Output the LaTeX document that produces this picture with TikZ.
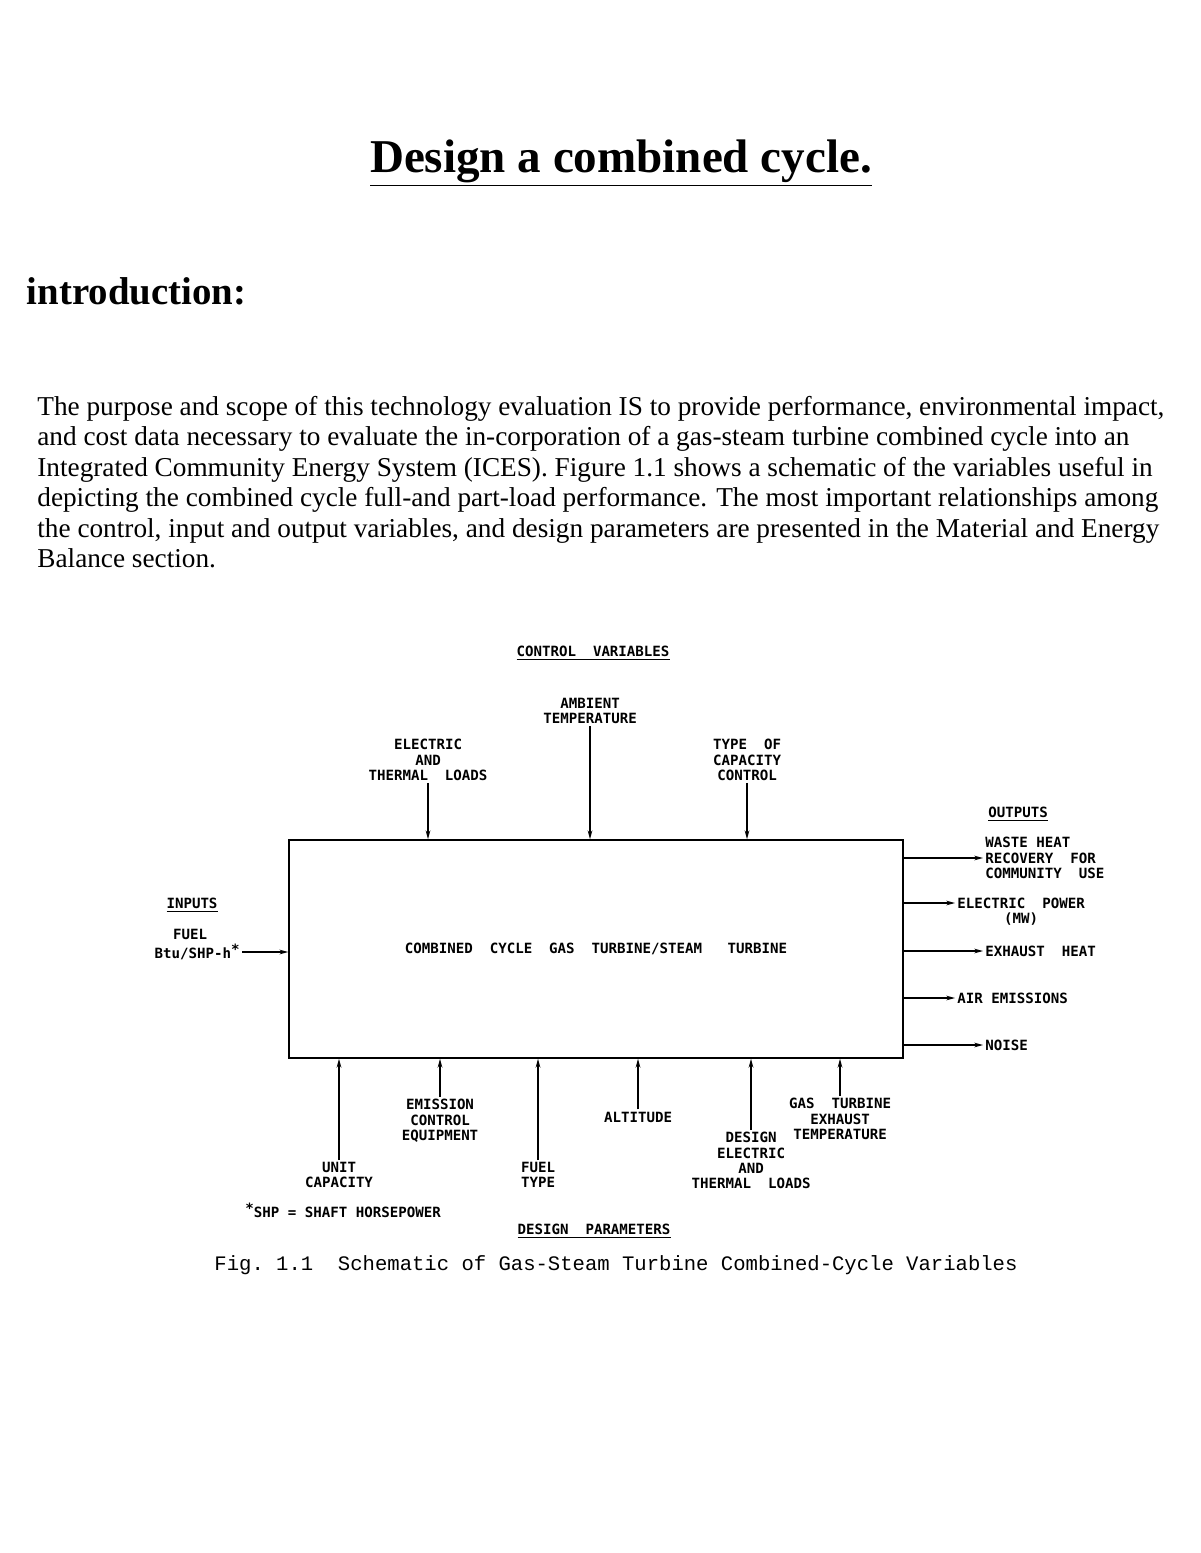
\documentclass[tikz,border=0pt]{standalone}
\usepackage{fontspec}
\setmainfont{Liberation Serif}
\newfontfamily\lettering{DejaVu Sans Mono}
\newfontfamily\typewriter{Liberation Mono}
\usetikzlibrary{positioning,arrows.meta}
\begin{document}
\begin{tikzpicture}[x=0.51pt,y=-0.51pt,>={Stealth[length=4.5pt,width=2.4pt]},
  lbl/.style={font=\lettering\bfseries\fontsize{7.2}{7.8}\selectfont,align=center,inner sep=1pt},
  outlbl/.style={lbl,align=left,anchor=west},
  arr/.style={->,line width=0.6pt}]
\useasboundingbox (0,0) rectangle (1200,1553);

\node (title) at (621,163) {\fontsize{24}{28}\selectfont\bfseries\underline{Design a combined cycle.}};
\node[anchor=west] (intro) at (20,291) {\fontsize{19.8}{24}\selectfont\bfseries introduction:};
\node[anchor=north west,align=left,inner sep=0pt,font=\fontsize{13.9}{15.5}\selectfont] (para) at (37,396)
  {The purpose and scope of this technology evaluation IS to provide performance, environmental impact,\\
   and cost data necessary to evaluate the in-corporation of a gas-steam turbine combined cycle into an\\
   Integrated Community Energy System (ICES). Figure 1.1 shows a schematic of the variables useful in\\
   depicting the combined cycle full-and part-load performance. The most important relationships among\\
   the control, input and output variables, and design parameters are presented in the Material and Energy\\
   Balance section.};

% main block
\node[draw,line width=0.8pt,minimum width=313.1pt,minimum height=111.2pt,inner sep=0pt,lbl] (box) at (596,949)
  {\raisebox{-2pt}{COMBINED~~CYCLE~~GAS~~TURBINE/STEAM~~~TURBINE}};

% control variables
\node[lbl] (ctrl) at (593,653) {\underline{CONTROL~~VARIABLES}};
\node[lbl] (ambient) at (590,711) {AMBIENT\\TEMPERATURE};
\node[lbl] (loads) at (428,760) {ELECTRIC\\AND\\THERMAL~~LOADS};
\node[lbl] (captype) at (747,760) {TYPE~~OF\\CAPACITY\\CONTROL};
\draw[arr] (ambient) -- (ambient |- box.north);
\draw[arr] (loads) -- (loads |- box.north);
\draw[arr] (captype) -- (captype |- box.north);

% inputs
\node[lbl] (inputs) at (192,905) {\underline{INPUTS}};
\node[lbl] (fuel) at (190,934) {FUEL};
\node[lbl,anchor=east] (btu) at (242,952) {Btu/SHP-h\raisebox{2pt}{*}};
\draw[arr] (btu) -- (btu -| box.west);

% outputs
\node[lbl] (outputs) at (1018,814) {\underline{OUTPUTS}};
\node[outlbl] (waste) at (983,858) {WASTE~HEAT\\RECOVERY~~FOR\\COMMUNITY~~USE};
\node[outlbl] (elpower) at (955,903) {ELECTRIC~~POWER};
\node[lbl,below=0pt of elpower] (mw) {(MW)};
\node[outlbl] (exhaust) at (983,951) {EXHAUST~~HEAT};
\node[outlbl] (airem) at (955,998) {AIR EMISSIONS};
\node[outlbl] (noise) at (983,1045) {NOISE};
\draw[arr] (box.east |- waste) -- (waste);
\draw[arr] (box.east |- elpower) -- (elpower);
\draw[arr] (box.east |- exhaust) -- (exhaust);
\draw[arr] (box.east |- airem) -- (airem);
\draw[arr] (box.east |- noise) -- (noise);

% design parameters
\node[lbl,anchor=north] (unitcap) at (339,1160) {UNIT\\CAPACITY};
\node[lbl,anchor=north] (emission) at (440,1097) {EMISSION\\CONTROL\\EQUIPMENT};
\node[lbl,anchor=north] (fueltype) at (538,1160) {FUEL\\TYPE};
\node[lbl] (altitude) at (638,1117) {ALTITUDE};
\node[lbl,anchor=north] (deload) at (751,1130) {DESIGN\\ELECTRIC\\AND\\THERMAL~~LOADS};
\node[lbl,anchor=north] (gasexh) at (840,1096) {GAS~~TURBINE\\EXHAUST\\TEMPERATURE};
\draw[arr] (unitcap) -- (unitcap |- box.south);
\draw[arr] (emission) -- (emission |- box.south);
\draw[arr] (fueltype) -- (fueltype |- box.south);
\draw[arr] (altitude) -- (altitude |- box.south);
\draw[arr] (deload) -- (deload |- box.south);
\draw[arr] (gasexh) -- (gasexh |- box.south);

\node[lbl,anchor=west] (shp) at (243,1210) {\raisebox{2pt}{*}SHP = SHAFT HORSEPOWER};
\node[lbl] (design) at (594,1231) {\underline{DESIGN~~PARAMETERS}};
\node (caption) at (616,1265) {\typewriter\fontsize{10.5}{12}\selectfont Fig.~1.1~~Schematic of Gas-Steam Turbine Combined-Cycle Variables};
\end{tikzpicture}
\end{document}
